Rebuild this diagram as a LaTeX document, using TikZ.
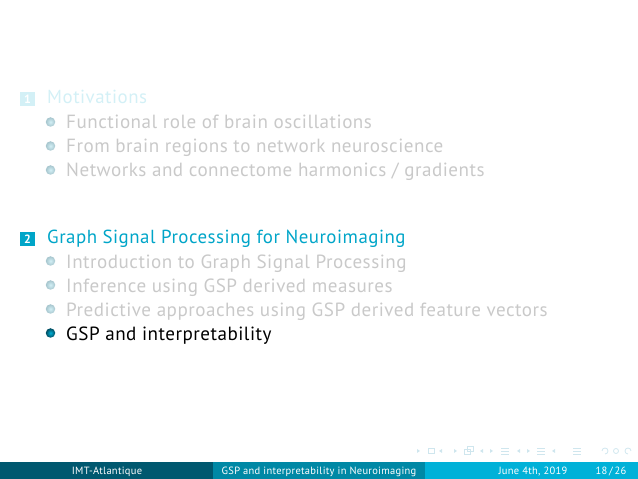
\documentclass[tikz,border=0pt]{standalone}
\usepackage{fontspec}
\setmainfont{PT Sans}[LetterSpace=2.6]
\definecolor{footdark}{HTML}{00586F}
\definecolor{footmid}{HTML}{0088A5}
\definecolor{footlight}{HTML}{00B1D8}
\definecolor{headcol}{HTML}{00A5C8}
\definecolor{headfade}{HTML}{D3F0F6}
\definecolor{itemfade}{HTML}{C9C9C9}
\definecolor{navcol}{HTML}{CFE6EE}
\tikzset{
  sect/.style={anchor=base west,font=\fontsize{18.9}{18}\selectfont,inner sep=0pt},
  item/.style={anchor=base west,font=\fontsize{19.1}{18}\selectfont,inner sep=0pt,text=itemfade},
  foot/.style={anchor=base,font=\fontsize{10.5}{12}\selectfont,inner sep=0pt,text=white},
  numbox/.style={minimum size=14.5pt,inner sep=0pt,font=\fontsize{12}{12}\selectfont\bfseries,text=white},
  ballon/.style={circle,minimum size=9.5pt,inner sep=0pt,inner color=footlight,outer color=footdark!85!black},
  balloff/.style={circle,minimum size=9.5pt,inner sep=0pt,inner color=headfade,outer color=footdark!35!white},
  nav/.style={draw=navcol,line width=0.8pt},
  navtip/.style={fill=navcol}
}
\begin{document}
\begin{tikzpicture}[x=1pt,y=1pt]
\useasboundingbox (0,0) rectangle (638,479);

\draw (27.5,380) node (n1) [numbox,fill=headfade] {1};
\draw (47,375) node (s1) [sect,text=headfade] {Motivations};
\draw (50.5,357) node (b11) [balloff] {};
\draw (66,350.5) node (t11) [item] {Functional role of brain oscillations};
\draw (50.5,333) node (b12) [balloff] {};
\draw (66,326.5) node (t12) [item] {From brain regions to network neuroscience};
\draw (50.5,309) node (b13) [balloff] {};
\draw (66,302.5) node (t13) [item] {Networks and connectome harmonics / gradients};

\draw (27.5,240) node (n2) [numbox,fill=headcol] {2};
\draw (47,235) node (s2) [sect,text=headcol] {Graph Signal Processing for Neuroimaging};
\draw (50.5,218) node (b21) [balloff] {};
\draw (66,210.5) node (t21) [item] {Introduction to Graph Signal Processing};
\draw (50.5,194) node (b22) [balloff] {};
\draw (66,186.5) node (t22) [item] {Inference using GSP derived measures};
\draw (50.5,170) node (b23) [balloff] {};
\draw (66,162.5) node (t23) [item] {Predictive approaches using GSP derived feature vectors};
\draw (50.5,146) node (b24) [ballon] {};
\draw (66,138.5) node (t24) [item,text=black] {GSP and interpretability};

\fill[footdark] (0,0) rectangle (213,17);
\fill[footmid] (213,0) rectangle (425,17);
\fill[footlight] (425,0) rectangle (638,17);
\draw (107,4) node (f1) [foot] {IMT-Atlantique};
\draw (319,4) node (f2) [foot] {GSP and interpretability in Neuroimaging};
\draw (533,4) node (f3) [foot] {June 4th, 2019};
\draw (611,4) node (f4) [foot] {18\,/\,26};

% navigation symbols
\foreach \navx in {420,457,493,530} \fill[navtip] (\navx,28) -- ++(-3,-2) -- ++(0,4) -- cycle;
\foreach \navx in {439,480,517,552} \fill[navtip] (\navx,28) -- ++(3,-2) -- ++(0,4) -- cycle;
\draw[nav] (428,26) rectangle (434,31);
\draw[nav] (464,25) rectangle (470,30);
\draw[nav] (467,28) rectangle (473,33);
\draw[nav] (501,25) -- (509,25) (501,28) -- (509,28) (501,31) -- (509,31);
\draw[nav] (537,25) -- (545,25) (537,28) -- (545,28) (537,31) -- (545,31);
\draw[nav] (573,25) -- (581,25) (573,28) -- (581,28) (573,31) -- (581,31);
\draw[nav] (602,28) arc (180:-90:3);
\draw[nav] (616,28) circle (2.5);
\draw[nav] (631,28) arc (0:270:3);
\end{tikzpicture}
\end{document}
